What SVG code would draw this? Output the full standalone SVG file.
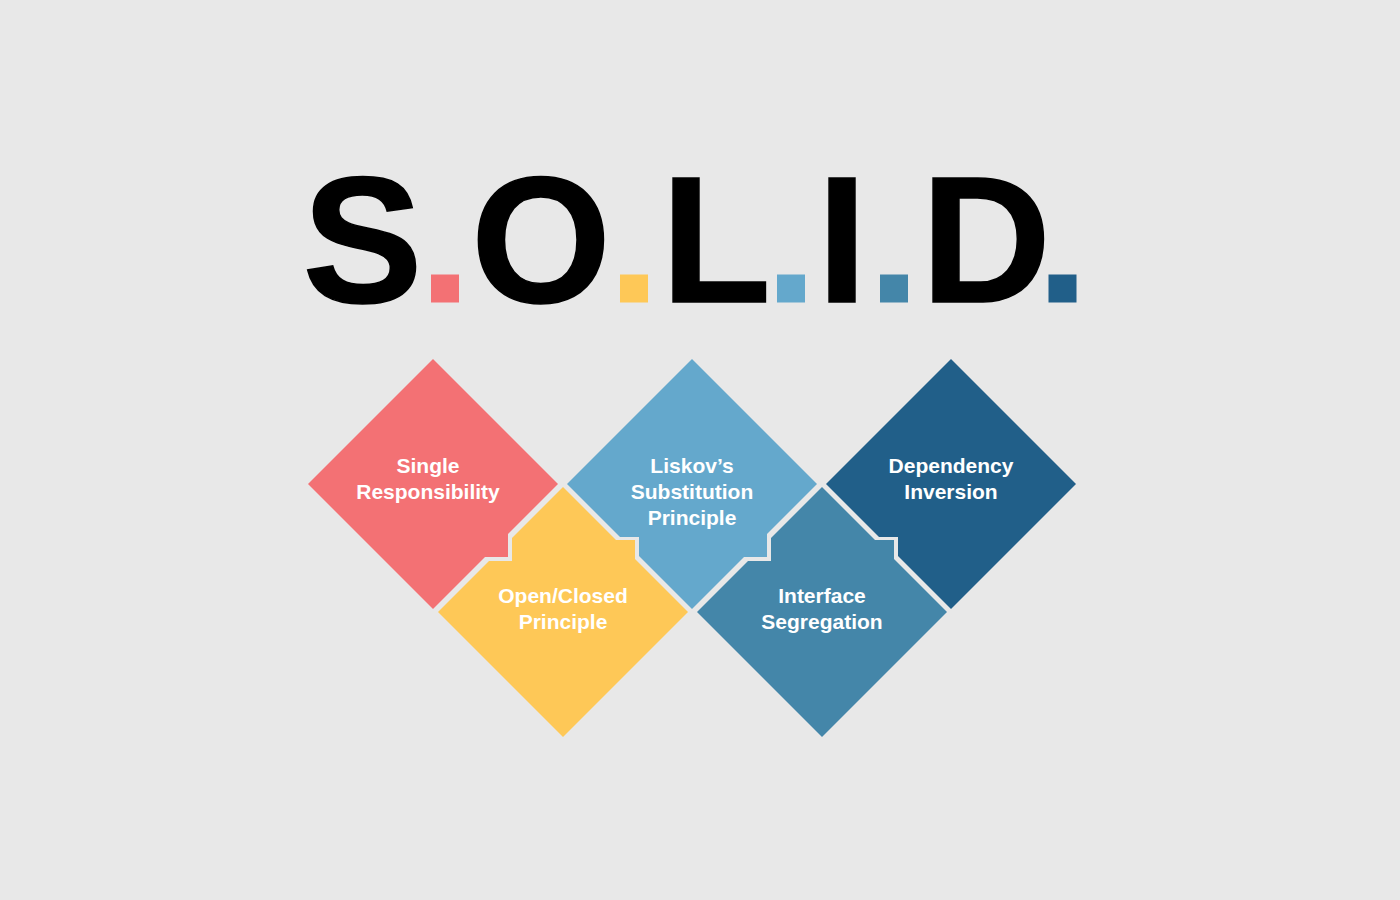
<svg xmlns="http://www.w3.org/2000/svg" width="1400" height="900" viewBox="0 0 1400 900">
  <style>
    .title { font-family: "Liberation Sans", Arial, Helvetica, sans-serif; font-weight: bold; font-size: 180px; fill: #000000; stroke: #000000; stroke-width: 1.5; }
    .label { font-family: "Liberation Sans", Arial, Helvetica, sans-serif; font-weight: bold; font-size: 21px; fill: #ffffff; text-anchor: middle; }
    .red { fill: #F37174; }
    .yellow { fill: #FEC857; }
    .lblue { fill: #64A8CC; }
    .mblue { fill: #4486A9; }
    .dblue { fill: #215F89; }
  </style>
  <rect x="0" y="0" width="1400" height="900" fill="#E8E8E8"/>

  <g id="title">
    <text class="title" x="302.5" y="302">S</text>
    <text class="title" x="471" y="302">O</text>
    <text class="title" x="661" y="302">L</text>
    <text class="title" x="817" y="302">I</text>
    <text class="title" x="921" y="302">D</text>
    <rect class="red" x="431" y="274.5" width="28" height="28"/>
    <rect class="yellow" x="620" y="274.5" width="28" height="28"/>
    <rect class="lblue" x="777" y="274.5" width="28" height="28"/>
    <rect class="mblue" x="880" y="274.5" width="28" height="28"/>
    <rect class="dblue" x="1048.5" y="274.5" width="28" height="28"/>
  </g>

  <g id="single-responsibility">
    <polygon class="red" points="433,359 558,484 508,534 508,557 485,557 433,609 308,484"/>
    <text class="label" x="428" y="473">Single</text>
    <text class="label" x="428" y="499">Responsibility</text>
  </g>

  <g id="open-closed">
    <polygon class="yellow" points="563,487 512,538 512,561 489,561 438,612 563,737 688,612 635,559 635,540 616,540"/>
    <text class="label" x="563" y="603">Open/Closed</text>
    <text class="label" x="563" y="629">Principle</text>
  </g>

  <g id="liskov-substitution">
    <polygon class="lblue" points="692,359 817,484 767,534 767,557 744,557 692,609 639,556 639,537 620,537 567,484"/>
    <text class="label" x="692" y="473">Liskov’s</text>
    <text class="label" x="692" y="499">Substitution</text>
    <text class="label" x="692" y="525">Principle</text>
  </g>

  <g id="interface-segregation">
    <polygon class="mblue" points="822,487 771,538 771,561 748,561 697,612 822,737 947,612 894,559 894,540 875,540"/>
    <text class="label" x="822" y="603">Interface</text>
    <text class="label" x="822" y="629">Segregation</text>
  </g>

  <g id="dependency-inversion">
    <polygon class="dblue" points="951,359 1076,484 951,609 898,556 898,537 879,537 826,484"/>
    <text class="label" x="951" y="473">Dependency</text>
    <text class="label" x="951" y="499">Inversion</text>
  </g>

  <g id="connectors"></g>
</svg>
